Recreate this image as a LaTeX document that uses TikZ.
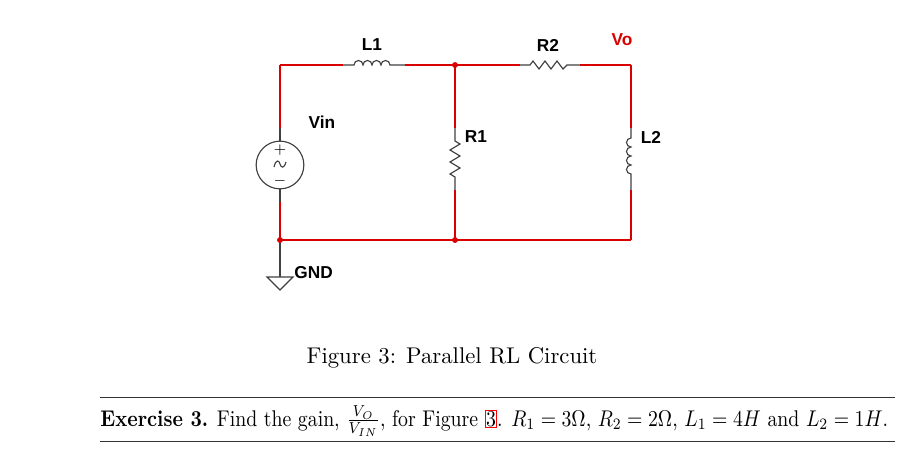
\documentclass[tikz,border=0pt]{standalone}
\usepackage{fontspec}
\newfontfamily\labfont{Liberation Sans}
\begin{document}
\begin{tikzpicture}[x=0.44pt,y=-0.44pt,
  wire/.style={draw=red!85!black,line width=0.5pt},
  comp/.style={draw=black!75,line width=0.5pt},
  lab/.style={font=\labfont\fontsize{7.6}{8}\selectfont\bfseries,inner sep=0pt},
  dot/.style={circle,fill=red!85!black,inner sep=0pt,minimum size=2.6pt}]
\useasboundingbox (0,0) rectangle (902,458);
% nodes / junctions
\coordinate (TL) at (280,65); \coordinate (TM) at (455,65); \coordinate (TR) at (631,65);
\coordinate (BL) at (280,240); \coordinate (BM) at (455,240); \coordinate (BR) at (631,240);
% L1
\coordinate (L1a) at (343,65); \coordinate (L1b) at (405,65);
\draw[wire] (TL) -- (L1a); \draw[wire] (L1b) -- (TM);
\draw[comp] (L1a) -- (354,65) arc(180:360:4.5) arc(180:360:4.5) arc(180:360:4.5) arc(180:360:4.5) -- (L1b);
% R2
\coordinate (R2a) at (520,65); \coordinate (R2b) at (580,65);
\draw[wire] (TM) -- (R2a); \draw[wire] (R2b) -- (TR);
\draw[comp] (R2a) -- (530,65) -- (533,61) -- (539,69) -- (545,61) -- (551,69) -- (557,61) -- (563,69) -- (567,65) -- (R2b);
% R1
\coordinate (R1a) at (455,128); \coordinate (R1b) at (455,190);
\draw[wire] (TM) -- (R1a); \draw[wire] (R1b) -- (BM);
\draw[comp] (R1a) -- (455,141) -- (460,144) -- (450,150) -- (460,156) -- (450,162) -- (460,168) -- (450,174) -- (455,177) -- (R1b);
% L2
\coordinate (L2a) at (631,128); \coordinate (L2b) at (631,190);
\draw[wire] (TR) -- (L2a); \draw[wire] (L2b) -- (BR);
\draw[comp] (L2a) -- (631,138) arc(270:90:4.5) arc(270:90:4.5) arc(270:90:4.5) arc(270:90:4.5) -- (L2b);
% source
\node[circle,draw=black!75,line width=0.5pt,minimum size=21pt,inner sep=0pt] (src) at (280,165) {};
\coordinate (Sa) at (280,128); \coordinate (Sb) at (280,202);
\draw[wire] (TL) -- (Sa); \draw[comp] (Sa) -- (src.north);
\draw[comp] (src.south) -- (Sb); \draw[wire] (Sb) -- (BL);
\node[lab,font=\fontsize{6}{6}\selectfont] (plus) at (280,150) {+};
\node[lab,font=\fontsize{6}{6}\selectfont] (minus) at (280,181) {$-$};
\draw[comp] (274,167) .. controls (276,159) and (279,160) .. (280,164) .. controls (281,168) and (284,169) .. (286,162);
% bottom
\draw[wire] (BL) -- (BM) -- (BR);
% ground
\coordinate (G) at (280,277);
\draw[comp] (BL) -- (G);
\draw[comp] (267,277) -- (293,277) -- (280,290) -- cycle;
\node[dot] (d1) at (TM) {}; \node[dot] (d2) at (BL) {}; \node[dot] (d3) at (BM) {};
% labels
\node[lab] (tL1) at (372,45) {L1};
\node[lab] (tR2) at (548,45) {R2};
\node[lab,text=red!85!black] (tVo) at (622,40) {Vo};
\node[lab] (tVin) at (322,122) {Vin};
\node[lab] (tR1) at (476,137) {R1};
\node[lab] (tL2) at (651,137) {L2};
\node[lab,anchor=west] (tG) at (294,273) {GND};
% caption
\node (cap) at (452,358) {Figure 3: Parallel RL Circuit};
\draw[black!80,line width=0.4pt] (100,397) -- (895,397);
\draw[black!80,line width=0.4pt] (100,441) -- (895,441);
\node[anchor=west,inner sep=0pt,xscale=0.87] (ex) at (100,421) {\textbf{Exercise 3.} Find the gain, $\frac{V_O}{V_{IN}}$, for Figure {\fboxsep=0pt\fboxrule=0.6pt\fcolorbox{red}{white}{3}}. $R_1=3\Omega$, $R_2=2\Omega$, $L_1=4H$ and $L_2=1H$.};
\end{tikzpicture}
\end{document}
